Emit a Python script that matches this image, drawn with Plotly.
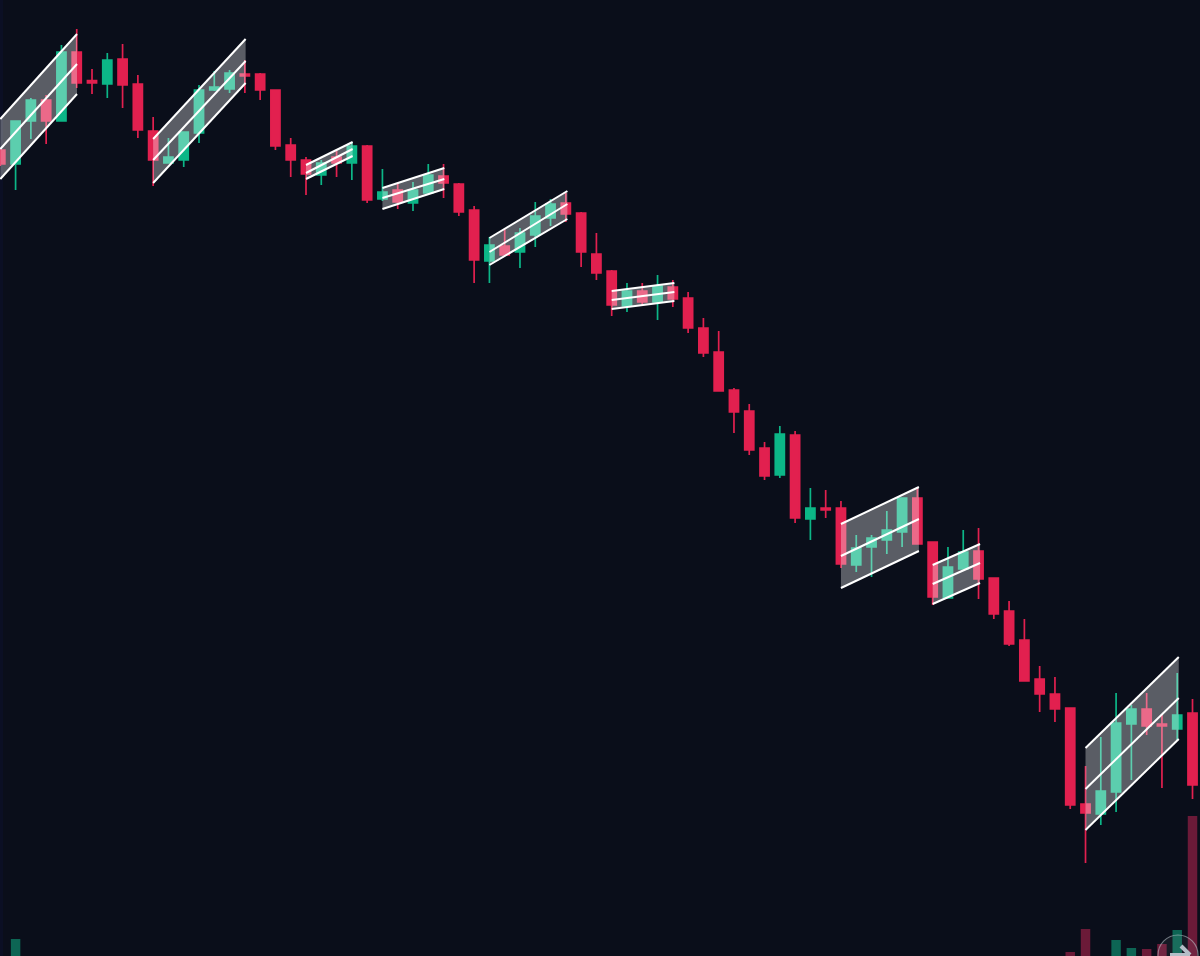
import plotly.graph_objects as go

# ------------------------------
# Data
# ------------------------------

# --- Candles (one bar per step)
opens = [806, 792, 835, 856, 835, 904, 875.5, 872, 897, 872, 825, 793, 796, 823, 866, 867, 882, 882, 866, 811,
         796, 781, 799, 793, 810, 757, 766, 753, 763, 780, 772, 746, 695, 710, 704, 721, 738, 753, 743, 702,
         685, 650, 665, 654, 669, 658, 628, 604, 566, 545, 508, 481, 521, 437, 448, 448, 391, 409, 416, 424,
         458, 414, 358, 387, 405, 378, 345, 316, 277, 262, 248, 152, 142, 164, 232, 247, 232, 227, 243]
highs = [808, 835, 858, 861, 911, 927, 887, 903, 912, 881, 839, 818, 824, 871, 885, 886, 896, 883, 866, 818,
         799, 796, 806, 814, 811, 787, 773, 774, 792, 792, 773, 750, 719, 727, 728, 754, 757, 763, 744, 723,
         686, 673, 673, 681, 676, 664, 638, 625, 568, 552, 514, 530, 525, 468, 466, 455, 421, 421, 445, 458,
         468, 414, 409, 426, 428, 378, 355, 337, 290, 279, 248, 190, 219, 263, 251, 263, 241, 283, 257]
lows = [790, 766, 817, 812, 835, 868, 862, 858, 848, 818, 770, 793, 789, 813, 865, 863, 863, 856, 806, 779,
        761, 771, 779, 776, 753, 755, 747, 745, 763, 758, 740, 673, 673, 701, 688, 709, 730, 734, 689, 676,
        640, 644, 650, 636, 649, 623, 599, 565, 523, 501, 476, 478, 433, 416, 438, 388, 384, 379, 402, 409,
        412, 351, 358, 387, 357, 337, 310, 275, 244, 234, 147, 93, 131, 144, 176, 221, 168, 216, 157]
closes = [792, 835, 856, 835, 904, 873, 873, 896, 871, 826, 796, 799, 824, 866, 869, 883, 880, 866, 810, 796,
          782, 793, 793, 810, 756, 764, 754, 766, 781, 773, 744, 696, 711, 701, 723, 740, 752, 742, 704, 683,
          651, 665, 654, 670, 657, 628, 603, 565, 544, 506, 480, 522, 438, 448, 446, 392, 408, 418, 426, 458,
          412, 359, 389, 404, 377, 342, 312, 275, 262, 247, 151, 143, 165, 233, 247, 230, 230, 241, 171]

# --- Volume bars that reach into the picture
vol_steps = [1, 70, 71, 73, 74, 75, 76, 77, 78]
vol_values = [17, 4, 27, 16, 8, 7, 12, 26, 140]
vol_up = [True, False, False, True, True, False, False, True, False]

# --- Parallel channels: first step, last step, then price at each end
ch_start = [0, 10, 20, 25, 32, 40, 55, 61, 71]
ch_end = [5.02, 16.05, 23.05, 29.05, 37.1, 44.1, 60.1, 64.1, 77.1]
ch_upper_a = [837, 817, 791, 768, 718, 665, 432, 391, 208]
ch_upper_b = [922, 917, 814, 788, 765, 673, 469, 412, 299]
ch_mid_a = [807, 796, 783, 758, 704, 656, 400, 372, 167]
ch_mid_b = [892, 895, 807, 777, 752, 664, 437, 393, 258]
ch_lower_a = [777, 773, 777, 747, 691, 647, 368, 352, 126]
ch_lower_b = [862, 873, 800, 767, 737, 655, 405, 373, 217]

BG = "#0a0e1a"
GREEN = "#0cb687"
RED = "#e2204f"
VOL_GREEN = "#0d6554"
VOL_RED = "#6b1a38"
CH_FILL = "rgba(255,255,255,0.33)"

# ------------------------------
# Figure Setup
# ------------------------------

fig = go.Figure()

fig.add_trace(go.Bar(
    x=vol_steps,
    y=vol_values,
    yaxis="y2",
    width=0.62,
    marker=dict(color=[VOL_GREEN if up else VOL_RED for up in vol_up], line_width=0),
))

fig.add_trace(go.Candlestick(
    x=list(range(len(opens))),
    open=opens,
    high=highs,
    low=lows,
    close=closes,
    whiskerwidth=0,
    increasing=dict(fillcolor=GREEN, line=dict(color=GREEN, width=1.7)),
    decreasing=dict(fillcolor=RED, line=dict(color=RED, width=1.7)),
))

white_line = dict(color="white", width=2)
for i in range(len(ch_start)):
    xs = [ch_start[i], ch_end[i]]
    fig.add_trace(go.Scatter(x=xs, y=[ch_lower_a[i], ch_lower_b[i]], mode="lines", line=white_line))
    fig.add_trace(go.Scatter(x=xs, y=[ch_upper_a[i], ch_upper_b[i]], mode="lines", line=white_line,
                             fill="tonexty", fillcolor=CH_FILL))
    fig.add_trace(go.Scatter(x=xs, y=[ch_mid_a[i], ch_mid_b[i]], mode="lines", line=white_line))

# --- Scroll button in the corner, and the thin strip on the left edge
def px_x(v):
    return v / 1200

def px_y(v):
    return 1 - v / 956

fig.add_shape(type="rect", xref="paper", yref="paper", layer="below", line_width=0, fillcolor="#0b0f24",
              x0=0, x1=px_x(3), y0=0, y1=1)
fig.add_shape(type="circle", xref="paper", yref="paper", fillcolor="rgba(255,255,255,0.05)",
              line=dict(color="rgba(190,200,205,0.55)", width=1.2),
              x0=px_x(1158), x1=px_x(1198), y0=px_y(975), y1=px_y(935))
fig.add_shape(type="line", xref="paper", yref="paper", line=dict(color="#b4bec7", width=4),
              x0=px_x(1170), x1=px_x(1190), y0=px_y(955), y1=px_y(955))
fig.add_shape(type="line", xref="paper", yref="paper", line=dict(color="#b4bec7", width=4),
              x0=px_x(1181), x1=px_x(1190), y0=px_y(946), y1=px_y(955))

fig.update_layout(
    width=1200,
    height=956,
    showlegend=False,
    paper_bgcolor=BG,
    plot_bgcolor=BG,
    margin=dict(t=0, l=0, b=0, r=0),
    boxgap=0.15,
    xaxis=dict(visible=False, range=[-0.02, 78.49], rangeslider=dict(visible=False), fixedrange=True),
    yaxis=dict(visible=False, range=[0, 956], fixedrange=True),
    yaxis2=dict(visible=False, range=[0, 956], overlaying="y", fixedrange=True),
)

# the page body has a default margin, take it off so the chart sits at 0,0
fig.write_html("out.html", config=dict(displayModeBar=False),
               post_script=f"document.body.style.margin='0';document.body.style.background='{BG}';document.body.style.overflow='hidden';")
